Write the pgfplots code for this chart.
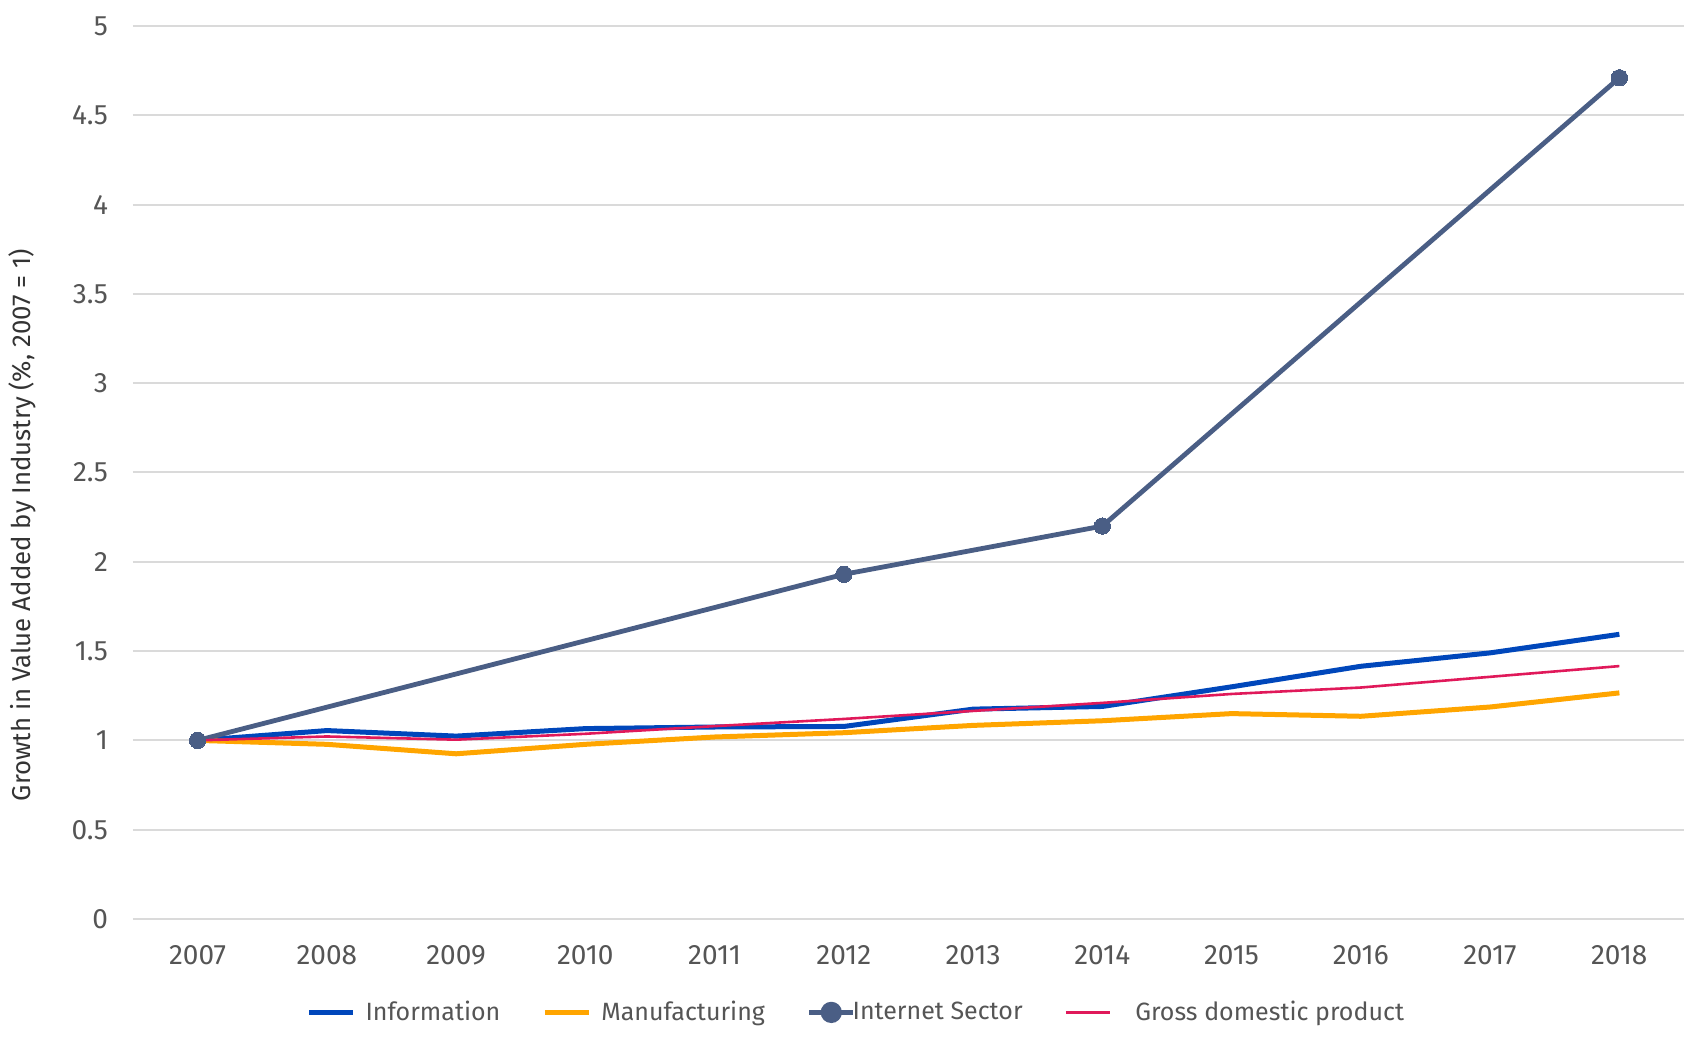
\documentclass[border=0pt]{standalone}
\usepackage{pgfplots}
\pgfplotsset{compat=1.18}
\usepackage{fontspec}
\setmainfont{Fira Sans}
\definecolor{info}{HTML}{0047BB}
\definecolor{manu}{HTML}{FFA500}
\definecolor{inet}{HTML}{4A5E85}
\definecolor{gdp}{HTML}{E0195A}
\definecolor{txt}{HTML}{555555}
\definecolor{gridc}{HTML}{DADADA}

\begin{document}
\begin{tikzpicture}
    % page = 1708 x 1043 px at 0.5pt per px, plot area origin at (0,0)
    \path[use as bounding box] (-66.5pt,-62pt) rectangle (787.5pt,459.5pt);
    \begin{axis}[
        at={(0,0)}, anchor=south west,
        scale only axis,
        width=775.5pt, height=446.5pt,
        xmin=2006.5, xmax=2018.5,
        ymin=0, ymax=5,
        xtick={2007,...,2018},
        ytick={0,0.5,...,5},
        ymajorgrids=true,
        grid style={gridc, line width=1pt},
        axis line style={draw=none},
        tick style={draw=none},
        /pgf/number format/assume math mode=true,
        /pgf/number format/1000 sep={},
        font=\fontsize{12.5}{15}\selectfont,
        tick label style={txt, font=\fontsize{14}{16}\selectfont},
        xticklabel style={yshift=-9.6pt},
        yticklabel style={xshift=-9pt},
        ylabel={Growth in Value Added by Industry (\%, 2007 = 1)},
        every axis y label/.style={at={(axis description cs:-0.0716,0.441)},
            rotate=90, anchor=center, text=black!80, font=\fontsize{12.9}{15}\selectfont},
        legend style={at={(axis description cs:0.467,-0.1046)}, anchor=center,
            draw=none, legend columns=4, text=txt,
            /tikz/every even column/.append style={column sep=19pt}},
        legend cell align={left},
        legend image code/.code={
            \draw[#1] (0pt,0pt) -- (22pt,0pt);
        },
    ]

    \addplot[info, line width=2.5pt] coordinates {
        (2007,1.00) (2008,1.055) (2009,1.024) (2010,1.066) (2011,1.075) (2012,1.078)
        (2013,1.175) (2014,1.19) (2015,1.30) (2016,1.415) (2017,1.49) (2018,1.594)
    };
    \addplot[manu, line width=2.5pt] coordinates {
        (2007,1.00) (2008,0.978) (2009,0.925) (2010,0.978) (2011,1.019) (2012,1.043)
        (2013,1.084) (2014,1.11) (2015,1.15) (2016,1.135) (2017,1.187) (2018,1.266)
    };
    \addplot[inet, line width=2.4pt, mark=*, mark size=4.1pt,
        mark options={fill=inet, draw=inet, line width=0pt},
        legend image code/.code={
            \draw[inet, line width=2.4pt] (0pt,0pt) -- (22pt,0pt);
            \fill[inet] (11pt,0pt) circle (4.1pt);
        }] coordinates {
        (2007,1.00) (2012,1.93) (2014,2.20) (2018,4.71)
    };
    \addplot[gdp, line width=1.3pt] coordinates {
        (2007,1.00) (2008,1.022) (2009,1.004) (2010,1.037) (2011,1.08) (2012,1.12)
        (2013,1.165) (2014,1.21) (2015,1.26) (2016,1.296) (2017,1.356) (2018,1.416)
    };

    \legend{\hspace{3pt}Information, \hspace{3pt}Manufacturing,
        \hspace{-3.5pt}Internet Sector, \hspace{10pt}Gross domestic product}
    \end{axis}
\end{tikzpicture}
\end{document}
